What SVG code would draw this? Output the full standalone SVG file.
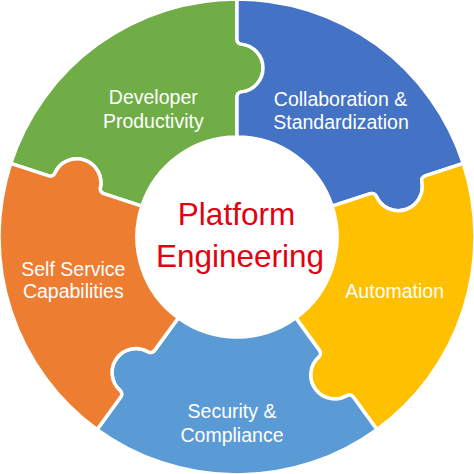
<svg xmlns="http://www.w3.org/2000/svg" xmlns:xlink="http://www.w3.org/1999/xlink" width="474" height="474" viewBox="0 0 474 474">
<style>
  .piece { stroke: #FFFFFF; stroke-width: 3.5; stroke-linejoin: round; }
  .lbl { font-family: "Liberation Sans", Arial, sans-serif; font-size: 19.5px; fill: #FFFFFF; text-anchor: middle; }
  .title { font-family: "Liberation Sans", Arial, sans-serif; font-size: 31.5px; fill: #E3000F; text-anchor: middle; }
</style>
<defs>
  <path id="piece" d="M -226.35 -73.55 A 238 238 0 0 1 0 -238 L 0 -197.84 A 5 5 0 0 0 4.48 -192.87 A 24 24 0 0 1 4.48 -145.13 A 5 5 0 0 0 0 -140.16 L 0 -100 A 100 100 0 0 0 -95.11 -30.9 L -133.3 -43.31 A 5 5 0 0 1 -136.64 -49.11 A 24 24 0 0 0 -182.05 -63.86 A 5 5 0 0 1 -188.16 -61.14 Z"/>
</defs>
<rect x="0" y="0" width="474" height="474" fill="#FFFFFF"/>
<g id="connectors"></g>
<g id="developer-productivity">
  <use href="#piece" xlink:href="#piece" class="piece" fill="#70AD47" transform="translate(237 237) rotate(0)"/>
  <text class="lbl" x="153.3" y="104">Developer</text>
  <text class="lbl" x="153.3" y="127.5">Productivity</text>
</g>
<g id="collaboration-standardization">
  <use href="#piece" xlink:href="#piece" class="piece" fill="#4472C4" transform="translate(237 237) rotate(72)"/>
  <text class="lbl" x="340.5" y="106">Collaboration &amp;</text>
  <text class="lbl" x="341" y="129.3">Standardization</text>
</g>
<g id="automation">
  <use href="#piece" xlink:href="#piece" class="piece" fill="#FFC000" transform="translate(237 237) rotate(144)"/>
  <text class="lbl" x="394.7" y="298.3">Automation</text>
</g>
<g id="security-compliance">
  <use href="#piece" xlink:href="#piece" class="piece" fill="#5B9BD5" transform="translate(237 237) rotate(216)"/>
  <text class="lbl" x="232" y="418.3">Security &amp;</text>
  <text class="lbl" x="232" y="441.7">Compliance</text>
</g>
<g id="self-service-capabilities">
  <use href="#piece" xlink:href="#piece" class="piece" fill="#ED7D31" transform="translate(237 237) rotate(288)"/>
  <text class="lbl" x="73.3" y="275.5">Self Service</text>
  <text class="lbl" x="73.3" y="297.5">Capabilities</text>
</g>
<g id="platform-engineering">
  <text class="title" x="236.5" y="225">Platform</text>
  <text class="title" x="240" y="266.7">Engineering</text>
</g>
</svg>
